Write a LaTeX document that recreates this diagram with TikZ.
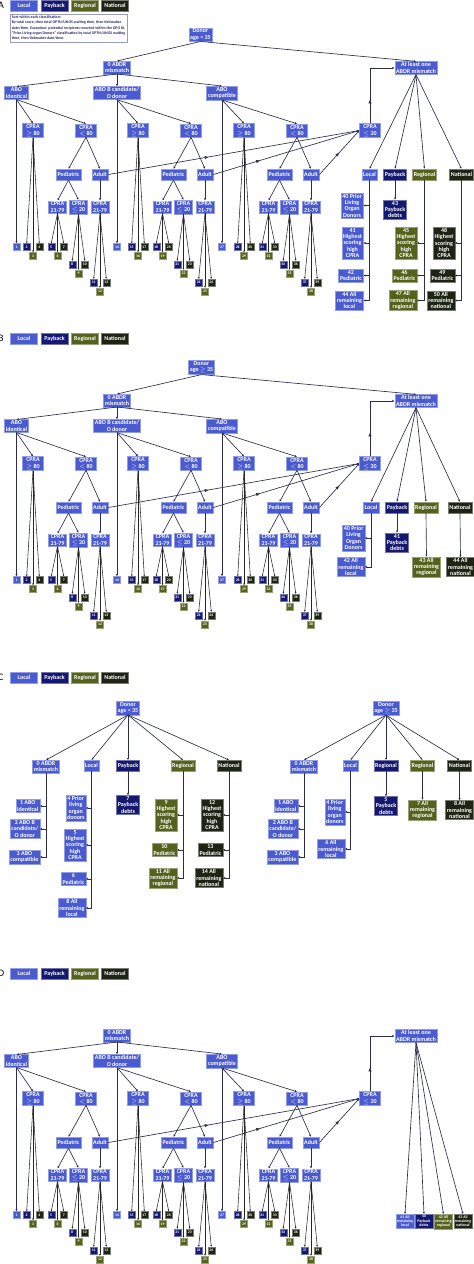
\documentclass[tikz,border=0pt]{standalone}
\usepackage{fontspec}
\setmainfont{Carlito}
\usetikzlibrary{arrows.meta,decorations.markings}

\definecolor{localc}{RGB}{74,90,208}
\definecolor{paybackc}{RGB}{20,24,112}
\definecolor{regionalc}{RGB}{84,98,30}
\definecolor{nationalc}{RGB}{30,36,20}
\definecolor{linec}{RGB}{44,46,72}
\definecolor{notec}{RGB}{30,34,110}

\tikzset{
  box/.style={draw=#1!60!white, fill=#1, line width=0.35pt, text=white,
    font=\fontsize{6}{6.3}\selectfont\bfseries, align=center,
    inner xsep=1.4pt, inner ysep=1.2pt, minimum height=11pt},
  box/.default=localc,
  numbox/.style={draw=#1!60!white, fill=#1, line width=0.3pt, text=white,
    font=\fontsize{3.8}{4}\selectfont\bfseries, minimum size=7pt, inner sep=0pt},
  numbox/.default=localc,
  keybox/.style={box=#1, minimum width=27pt},
  smallbox/.style={box=#1, font=\fontsize{3.9}{4.4}\selectfont\bfseries,
    inner xsep=0.8pt, minimum width=18pt},
  smallbox/.default=localc,
  note/.style={draw=notec!45!white, fill=white, line width=0.5pt, text=notec,
    font=\fontsize{3.9}{5.3}\selectfont\bfseries, align=left, inner sep=1.6pt},
  link/.style={draw=linec, line width=0.65pt, -{Latex[length=2.2pt,width=2.2pt]}},
  fan/.style={draw=black!85, line width=0.55pt, -{Latex[length=1.8pt,width=1.8pt]}},
  midarrow/.style={postaction={decorate, decoration={markings,
    mark=at position #1 with {\arrow{Latex[length=4pt,width=3.4pt]}}}}},
}

% legend row and panel letter
\newcommand{\legendrow}[1]{%
  \node[font=\fontsize{10}{10}\selectfont, anchor=west, inner sep=0pt] (tag) at (-2,5) {#1};
  \node[keybox=localc] (kloc) at (24,5.5) {Local};
  \node[keybox=paybackc] (kpay) at (54.5,5.5) {Payback};
  \node[keybox=regionalc] (kreg) at (85,5.5) {Regional};
  \node[keybox=nationalc] (knat) at (115,5.5) {National};
}

% three numbered classifications under one CPRA box
\newcommand{\numtriple}[4]{%
  \pgfmathtruncatemacro{\tpa}{#4}%
  \pgfmathtruncatemacro{\tpb}{#4+1}%
  \pgfmathtruncatemacro{\tpc}{#4+2}%
  \node[numbox=paybackc] (n\tpa) at (#2-6.3,#3) {\tpa};
  \node[numbox=regionalc] (n\tpb) at (#2,#3+9) {\tpb};
  \node[numbox=nationalc] (n\tpc) at (#2+6.3,#3) {\tpc};
  \draw[fan] (#1.south) -- (n\tpa.north);
  \draw[fan] (#1.south) -- (n\tpb.north);
  \draw[fan] (#1.south) -- (n\tpc.north);
}

% the 0 ABDR mismatch tree shared by A, B and D
\newcommand{\abdrtree}{%
  \node[box] (zero) at (117,67.5) {0 ABDR\\mismatch};
  \node[box] (one) at (416,68) {At least one\\ABDR mismatch};
  \node[box, minimum width=21pt] (low) at (370,130.5) {CPRA\\$\leq$ 20};
  \foreach \g/\bx/\ax/\ap/\lab in {0/0/16.5/0.4/{ABO\\identical},
      1/105/117/0.32/{ABO B candidate/\\O donor},
      2/211/222/0.5/{ABO\\compatible}}{
    \pgfmathtruncatemacro{\nn}{13*\g+1}
    \node[box] (abo\g) at (\ax,93) {\lab};
    \node[numbox] (n\nn) at (\ax,247) {\nn};
    \node[box, minimum width=21pt] (hi\g) at (\bx+33,130.5) {CPRA\\$\geq$ 80};
    \node[box, minimum width=21pt] (mid\g) at (\bx+86,130.5) {CPRA\\$<$ 80};
    \node[box] (ped\g) at (\bx+68.5,174.5) {Pediatric};
    \node[box] (adu\g) at (\bx+100,174.5) {Adult};
    \node[box, minimum width=18pt] (pa\g) at (\bx+57.5,207) {CPRA\\21-79};
    \node[box, minimum width=18pt] (pb\g) at (\bx+78.5,207) {CPRA\\$\leq$ 20};
    \node[box, minimum width=18pt] (ad\g) at (\bx+100,207) {CPRA\\21-79};
    \draw[link] (zero.south) -- (abo\g.north);
    \draw[link] (abo\g.south) -- (n\nn.north);
    \draw[link] (abo\g.south) -- (hi\g.north);
    \draw[link] (abo\g.south) -- (mid\g.north);
    \draw[link] (mid\g.south) -- (ped\g.north);
    \draw[link] (mid\g.south) -- (adu\g.north);
    \draw[link] (ped\g.south) -- (pa\g.north);
    \draw[link] (ped\g.south) -- (pb\g.north);
    \draw[link] (adu\g.south) -- (ad\g.north);
    \draw[link, midarrow=\ap] (adu\g.east) -- (low.west);
    \numtriple{hi\g}{\bx+33}{247}{13*\g+2}
    \numtriple{pa\g}{\bx+57.5}{247}{13*\g+5}
    \numtriple{pb\g}{\bx+78.5}{264.5}{13*\g+8}
    \numtriple{ad\g}{\bx+100}{282.5}{13*\g+11}
  }
  \draw[link, midarrow=0.3] (low.north) |- (one.west);
}

\begin{document}
\begin{tikzpicture}[x=1pt,y=-1pt]
\useasboundingbox (0,0) rectangle (474,1264);

% ---- A: donor age < 35
\begin{scope}[name prefix=a-]
  \legendrow{A}
  \node[note, anchor=north west] (note) at (10,14) {Sort within each classification:\\
    By total score, then total OPTN/UNOS waiting time, then tiebreaker\\
    date/time. Exception: potential recipients resorted within the OPO KI,\\
    ``Prior Living organ Donors'' classification by total OPTN/UNOS waiting\\
    time, then tiebreaker date/time.};
  \node[box] (donor) at (200.5,34.5) {Donor\\age < 35};
  \abdrtree
  \draw[link] (donor.south) -- (zero.north);
  \draw[link] (donor.south) -- (one.north);
  \node[box] (loc) at (369.5,174.5) {Local};
  \node[box=paybackc] (pay) at (395,174.5) {Payback};
  \node[box=regionalc] (reg) at (424.5,174.5) {Regional};
  \node[box=nationalc] (nat) at (461.5,174.5) {National};
  \foreach \t in {loc,pay,reg,nat} \draw[link] (one.south) -- (\t.north);
  \node[box, anchor=east] (l40) at (363.5,205.5) {40 Prior\\Living\\Organ\\Donors};
  \node[box, anchor=east] (l41) at (363.5,243) {41\\Highest\\scoring\\high\\CPRA};
  \node[box, anchor=east] (l42) at (363.5,275.5) {42\\Pediatric};
  \node[box, anchor=east] (l44) at (363.5,300.5) {44 All\\remaining\\local};
  \foreach \t in {l40,l41,l42,l44} \draw[link] (loc.south) |- (\t.east);
  \node[box=paybackc] (p43) at (395,209.5) {43\\Payback\\debts};
  \draw[link] (pay.south) -- (p43.north);
  \node[box=regionalc, anchor=east] (r45) at (417,243) {45\\Highest\\scoring\\high\\CPRA};
  \node[box=regionalc, anchor=east] (r46) at (417,275.5) {46\\Pediatric};
  \node[box=regionalc, anchor=east] (r47) at (417,300.5) {47 All\\remaining\\regional};
  \foreach \t in {r45,r46,r47} \draw[link] (reg.south) |- (\t.east);
  \node[box=nationalc, anchor=east] (t48) at (455,243) {48\\Highest\\scoring\\high\\CPRA};
  \node[box=nationalc, anchor=east] (t49) at (455,275.5) {49\\Pediatric};
  \node[box=nationalc, anchor=east] (t50) at (455,300.5) {50 All\\remaining\\national};
  \foreach \t in {t48,t49,t50} \draw[link] (nat.south) |- (\t.east);
\end{scope}

% ---- B: donor age >= 35
\begin{scope}[yshift=-333pt, name prefix=b-]
  \legendrow{B}
  \node[box] (donor) at (201.5,34.5) {Donor\\age $\geq$ 35};
  \abdrtree
  \draw[link] (donor.south) -- (zero.north);
  \draw[link] (donor.south) -- (one.north);
  \node[box] (loc) at (371,174.5) {Local};
  \node[box=paybackc] (pay) at (397,174.5) {Payback};
  \node[box=regionalc] (reg) at (426,174.5) {Regional};
  \node[box=nationalc] (nat) at (460,174.5) {National};
  \foreach \t in {loc,pay,reg,nat} \draw[link] (one.south) -- (\t.north);
  \node[box, anchor=east] (l40) at (365,205) {40 Prior\\Living\\Organ\\Donors};
  \node[box, anchor=east] (l42) at (365,234) {42 All\\remaining\\local};
  \foreach \t in {l40,l42} \draw[link] (loc.south) |- (\t.east);
  \node[box=paybackc] (p41) at (397,209.5) {41\\Payback\\debts};
  \draw[link] (pay.south) -- (p41.north);
  \node[box=regionalc] (r43) at (426.5,234) {43 All\\remaining\\regional};
  \draw[link] (reg.south) -- (r43.north);
  \node[box=nationalc] (t44) at (460.5,234) {44 All\\remaining\\national};
  \draw[link] (nat.south) -- (t44.north);
\end{scope}

% ---- C: 0 ABDR mismatch first, then classifications
\begin{scope}[yshift=-672pt]
  \begin{scope}[name prefix=c-]
    \legendrow{C}
    \node[box] (donor) at (128,36) {Donor\\age < 35};
    \node[box, anchor=north] (zero) at (46,88) {0 ABDR\\mismatch};
    \node[box, anchor=north] (loc) at (91.5,88) {Local};
    \node[box=paybackc, anchor=north] (pay) at (128,88) {Payback};
    \node[box=regionalc, anchor=north] (reg) at (183,88) {Regional};
    \node[box=nationalc, anchor=north] (nat) at (229,88) {National};
    \foreach \t in {zero,loc,pay,reg,nat} \draw[link] (donor.south) -- (\t.north);
    \node[box, anchor=east] (z1) at (40,134) {1 ABO\\identical};
    \node[box, anchor=east] (z2) at (40,157) {2 ABO B\\candidate/\\O donor};
    \node[box, anchor=east] (z3) at (40,185) {3 ABO\\compatible};
    \foreach \t in {z1,z2,z3} \draw[link] (zero.south) |- (\t.east);
    \node[box, anchor=east] (l4) at (86,136) {4 Prior\\living\\organ\\donors};
    \node[box, anchor=east] (l5) at (86,173) {5\\Highest\\scoring\\high\\CPRA};
    \node[box, anchor=east] (l6) at (86,207) {6\\Pediatric};
    \node[box, anchor=east] (l8) at (86,236) {8 All\\remaining\\local};
    \foreach \t in {l4,l5,l6,l8} \draw[link] (loc.south) |- (\t.east);
    \node[box=paybackc] (p7) at (128,133) {7\\Payback\\debts};
    \draw[link] (pay.south) -- (p7.north);
    \node[box=regionalc, anchor=east] (r9) at (177,143) {9\\Highest\\scoring\\high\\CPRA};
    \node[box=regionalc, anchor=east] (r10) at (177,178) {10\\Pediatric};
    \node[box=regionalc, anchor=east] (r11) at (177,206) {11 All\\remaining\\regional};
    \foreach \t in {r9,r10,r11} \draw[link] (reg.south) |- (\t.east);
    \node[box=nationalc, anchor=east] (t12) at (223,143) {12\\Highest\\scoring\\high\\CPRA};
    \node[box=nationalc, anchor=east] (t13) at (223,178) {13\\Pediatric};
    \node[box=nationalc, anchor=east] (t14) at (223,206) {14 All\\remaining\\national};
    \foreach \t in {t12,t13,t14} \draw[link] (nat.south) |- (\t.east);
  \end{scope}
  \begin{scope}[name prefix=e-]
    \node[box] (donor) at (386,36) {Donor\\age $\geq$ 35};
    \node[box, anchor=north] (zero) at (304,88) {0 ABDR\\mismatch};
    \node[box, anchor=north] (loc) at (350.5,88) {Local};
    \node[box=paybackc, anchor=north] (pay) at (386,88) {Regional};
    \node[box=regionalc, anchor=north] (reg) at (422.5,88) {Regional};
    \node[box=nationalc, anchor=north] (nat) at (459.5,88) {National};
    \foreach \t in {zero,loc,pay,reg,nat} \draw[link] (donor.south) -- (\t.north);
    \node[box, anchor=east] (z1) at (298,134) {1 ABO\\identical};
    \node[box, anchor=east] (z2) at (298,157) {2 ABO B\\candidate/\\O donor};
    \node[box, anchor=east] (z3) at (298,185) {3 ABO\\compatible};
    \foreach \t in {z1,z2,z3} \draw[link] (zero.south) |- (\t.east);
    \node[box, anchor=east] (l4) at (345,140) {4 Prior\\living\\organ\\donors};
    \node[box, anchor=east] (l6) at (345,177) {6 All\\remaining\\local};
    \foreach \t in {l4,l6} \draw[link] (loc.south) |- (\t.east);
    \node[box=paybackc] (p5) at (386,134) {5\\Payback\\debts};
    \draw[link] (pay.south) -- (p5.north);
    \node[box=regionalc] (r7) at (422.5,138) {7 All\\remaining\\regional};
    \draw[link] (reg.south) -- (r7.north);
    \node[box=nationalc] (t8) at (459.5,138) {8 All\\remaining\\national};
    \draw[link] (nat.south) -- (t8.north);
  \end{scope}
\end{scope}

% ---- D: no donor age split
\begin{scope}[yshift=-968pt, name prefix=d-]
  \legendrow{D}
  \abdrtree
  \node[smallbox, anchor=north] (l41) at (405,246) {41 All\\remaining\\local};
  \node[smallbox=paybackc, anchor=north] (p40) at (424,246) {40\\Payback\\debts};
  \node[smallbox=regionalc, anchor=north] (r42) at (443.5,246) {42 All\\remaining\\regional};
  \node[smallbox=nationalc, anchor=north] (t43) at (463,246) {43 All\\remaining\\national};
  \foreach \t in {l41,p40,r42,t43} \draw[link] (one.south) -- (\t.north);
\end{scope}
\end{tikzpicture}
\end{document}
